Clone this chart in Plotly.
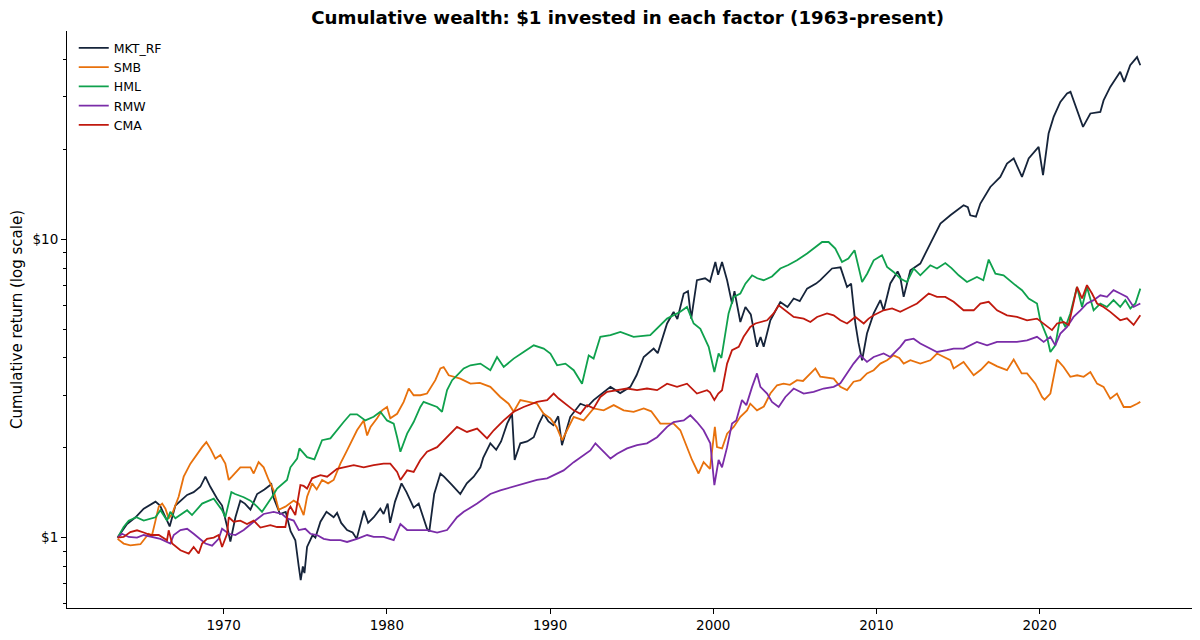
import pandas as pd
import plotly.graph_objects as go

# ---- data (decimal years, cumulative wealth of $1) ----
mkt_t = [1963.5,1964.08,1964.6,1965.1,1965.82,1966.1,1966.53,1966.69,1967.04,1967.35,1967.76,1968.16,1968.57,1968.88,1969.18,1969.6,1969.9,1970.21,1970.41,1970.72,1971.02,1971.3,1971.64,1972.05,1972.5,1972.92,1973.06,1973.45,1973.8,1974.1,1974.39,1974.6,1974.72,1974.85,1974.95,1975.11,1975.45,1975.62,1975.93,1976.3,1976.74,1976.95,1977.2,1977.56,1977.9,1978.15,1978.6,1978.85,1979.2,1979.6,1979.8,1980.05,1980.2,1980.5,1980.9,1981.2,1981.64,1981.95,1982.46,1982.6,1982.9,1983.28,1983.5,1984.0,1984.5,1984.9,1985.32,1985.73,1985.9,1986.34,1986.7,1987.0,1987.37,1987.67,1987.83,1988.18,1988.6,1989.0,1989.3,1989.61,1989.9,1990.2,1990.5,1990.73,1991.24,1991.86,1992.3,1992.67,1993.2,1993.7,1994.3,1994.92,1995.3,1995.74,1996.35,1996.6,1997.17,1997.57,1997.8,1998.19,1998.45,1998.65,1999.0,1999.5,1999.8,2000.13,2000.3,2000.54,2000.85,2001.15,2001.3,2001.66,2001.97,2002.3,2002.68,2002.9,2003.09,2003.5,2004.11,2004.55,2004.93,2005.3,2005.75,2006.3,2006.56,2007.28,2007.8,2008.2,2008.45,2008.71,2008.9,2009.12,2009.42,2009.83,2010.24,2010.44,2010.85,2011.3,2011.46,2011.67,2012.08,2012.69,2013.3,2013.92,2014.53,2015.34,2015.6,2015.75,2016.1,2016.37,2016.98,2017.59,2018.0,2018.41,2018.92,2019.33,2019.94,2020.21,2020.55,2020.86,2021.27,2021.68,2021.89,2022.3,2022.66,2023.11,2023.72,2023.92,2024.33,2024.94,2025.18,2025.55,2025.97,2026.17]
mkt_v = [1.00,1.11,1.17,1.25,1.32,1.28,1.14,1.09,1.28,1.33,1.39,1.42,1.48,1.60,1.48,1.35,1.28,1.09,0.97,1.17,1.33,1.30,1.24,1.40,1.45,1.51,1.36,1.20,1.22,1.05,0.98,0.80,0.72,0.80,0.76,0.93,1.02,1.00,1.13,1.22,1.17,1.21,1.12,1.06,1.04,0.99,1.23,1.12,1.17,1.25,1.20,1.30,1.12,1.32,1.52,1.42,1.26,1.30,1.07,1.05,1.40,1.64,1.60,1.50,1.40,1.52,1.60,1.72,1.85,2.07,1.97,2.10,2.41,2.60,1.82,2.07,2.10,2.17,2.40,2.60,2.45,2.38,2.55,2.04,2.54,2.81,2.75,2.89,3.05,3.20,3.05,3.20,3.50,4.03,4.30,4.15,5.22,5.71,5.40,6.58,6.70,5.42,7.29,7.40,7.20,8.39,7.60,8.39,7.29,6.09,6.70,5.28,5.93,5.60,4.36,4.70,4.36,5.35,6.16,5.93,6.33,6.20,6.83,7.10,7.29,7.98,8.05,6.92,7.10,5.22,4.50,3.93,4.83,5.64,6.25,5.77,7.11,7.80,7.47,6.41,7.87,8.29,9.67,11.29,12.03,13.0,12.8,12.03,11.9,13.17,14.97,16.18,17.94,18.65,16.18,18.65,20.39,16.39,22.61,25.7,28.86,30.8,31.2,27.07,23.8,26.4,26.7,29.2,32.4,36.4,33.7,38.3,40.8,38.3]

smb_t = [1963.5,1963.87,1964.28,1964.9,1965.4,1965.61,1965.82,1966.02,1966.23,1966.43,1966.63,1966.84,1967.24,1967.55,1967.96,1968.37,1968.68,1968.94,1969.2,1969.49,1969.8,1970.1,1970.31,1970.5,1970.82,1971.02,1971.64,1971.84,1972.14,1972.45,1972.76,1973.06,1973.37,1973.78,1974.29,1974.6,1974.9,1975.11,1975.42,1975.7,1976.03,1976.4,1976.74,1977.15,1977.56,1977.87,1978.17,1978.58,1978.79,1979.0,1979.4,1979.71,1980.01,1980.21,1980.63,1981.03,1981.34,1981.64,1982.05,1982.46,1982.97,1983.28,1983.48,1983.79,1984.5,1985.12,1985.7,1986.34,1986.95,1987.46,1987.77,1988.18,1988.6,1989.2,1989.61,1990.02,1990.4,1990.74,1991.04,1991.45,1992.06,1992.67,1993.28,1993.9,1994.51,1995.12,1995.74,1996.2,1996.76,1997.57,1997.98,1998.39,1998.7,1999.1,1999.41,1999.8,2000.1,2000.23,2000.54,2000.85,2001.25,2001.66,2002.07,2002.27,2002.68,2003.1,2003.5,2003.91,2004.31,2004.7,2005.13,2005.5,2005.95,2006.26,2006.56,2007.38,2007.79,2008.2,2008.6,2009.01,2009.42,2009.83,2010.24,2010.65,2011.05,2011.4,2011.67,2012.08,2012.69,2013.3,2013.71,2014.12,2014.53,2014.73,2015.34,2015.96,2016.4,2016.87,2017.4,2018.0,2018.41,2018.9,2019.23,2019.74,2020.15,2020.3,2020.66,2021.07,2021.47,2021.88,2022.3,2022.7,2023.11,2023.52,2023.92,2024.33,2024.74,2025.15,2025.56,2025.97,2026.17]
smb_v = [0.99,0.955,0.942,0.95,1.03,1.02,1.14,1.27,1.30,1.25,1.16,1.20,1.37,1.60,1.77,1.91,2.01,2.09,1.98,1.84,1.89,1.77,1.56,1.60,1.68,1.72,1.72,1.64,1.79,1.72,1.56,1.44,1.24,1.27,1.33,1.30,1.19,1.37,1.52,1.45,1.56,1.52,1.56,1.77,1.96,2.12,2.29,2.47,2.20,2.35,2.51,2.67,2.74,2.51,2.60,2.85,3.16,3.00,3.00,3.04,3.37,3.69,3.73,3.50,3.41,3.28,3.30,3.20,2.96,2.81,2.64,2.89,2.85,2.81,2.60,2.51,2.35,2.12,2.29,2.54,2.47,2.71,2.67,2.78,2.67,2.64,2.71,2.65,2.41,2.41,2.29,2.01,1.82,1.64,1.79,1.70,2.35,2.01,1.99,2.23,2.35,2.54,2.67,2.81,2.67,2.75,3.04,3.24,3.28,3.25,3.37,3.35,3.55,3.69,3.46,3.41,3.20,3.12,3.33,3.37,3.55,3.64,3.83,3.93,4.08,4.00,3.83,3.93,3.83,3.93,4.14,4.03,3.93,3.69,3.88,3.50,3.65,3.88,3.75,3.64,3.95,3.55,3.55,3.28,2.96,2.90,3.04,3.95,3.73,3.46,3.50,3.46,3.59,3.28,3.20,2.92,3.04,2.74,2.74,2.81,2.85]

hml_t = [1963.5,1963.87,1964.18,1964.65,1965.1,1965.82,1966.12,1966.53,1966.73,1967.04,1967.76,1968.06,1968.68,1969.39,1969.9,1970.1,1970.47,1970.7,1971.23,1971.64,1972.05,1972.35,1972.97,1973.27,1973.88,1974.09,1974.5,1974.64,1975.11,1975.56,1976.03,1976.54,1977.35,1977.76,1978.17,1978.68,1979.19,1979.6,1980.01,1980.42,1980.63,1980.83,1981.24,1981.64,1982.05,1982.25,1983.08,1983.38,1983.69,1984.0,1984.3,1984.71,1985.12,1985.73,1986.34,1986.75,1987.16,1987.77,1988.38,1989.0,1989.61,1990.02,1990.43,1990.94,1991.45,1991.96,1992.37,1992.67,1993.08,1993.7,1994.31,1995.12,1996.14,1996.56,1997.17,1997.98,1998.39,1998.8,1999.21,1999.72,2000.07,2000.33,2000.5,2000.74,2000.94,2001.25,2001.66,2001.97,2002.38,2002.7,2003.09,2003.6,2004.11,2004.6,2005.13,2005.75,2006.26,2006.67,2007.07,2007.48,2007.89,2008.28,2008.66,2009.12,2009.44,2009.83,2010.34,2010.65,2011.05,2011.46,2011.87,2012.28,2012.69,2013.3,2013.71,2014.22,2014.6,2015.04,2015.55,2016.16,2016.55,2016.88,2017.29,2017.79,2018.51,2018.92,2019.33,2019.84,2020.04,2020.45,2020.66,2020.96,2021.27,2021.58,2021.88,2022.08,2022.29,2022.6,2022.9,2023.31,2023.72,2024.13,2024.53,2024.94,2025.25,2025.56,2025.87,2026.17]
hml_v = [1.00,1.085,1.14,1.17,1.14,1.17,1.235,1.14,1.22,1.16,1.235,1.19,1.30,1.35,1.235,1.17,1.42,1.40,1.365,1.33,1.27,1.22,1.37,1.46,1.56,1.72,1.84,1.99,1.86,1.83,2.12,2.15,2.44,2.59,2.59,2.47,2.54,2.64,2.47,2.41,2.17,1.94,2.23,2.44,2.74,2.85,2.74,2.64,3.12,3.37,3.50,3.69,3.78,3.83,3.64,4.03,3.73,3.98,4.19,4.41,4.30,4.14,3.78,3.83,3.64,3.28,4.08,3.98,4.71,4.77,4.89,4.71,4.77,5.02,5.42,5.71,5.93,5.22,5.01,4.36,3.59,4.14,4.00,4.83,5.64,6.41,6.58,7.10,7.57,7.40,7.29,7.50,7.98,8.20,8.50,8.96,9.42,9.79,9.79,9.31,8.39,8.62,9.19,7.19,7.68,8.50,8.84,8.08,7.77,7.38,7.19,7.98,7.57,8.18,7.98,8.32,8.00,7.57,7.19,7.47,7.29,8.55,7.67,7.57,7.02,6.75,6.33,6.09,5.35,4.71,4.19,4.41,5.49,5.08,5.64,6.25,6.92,5.93,6.92,5.78,6.09,5.93,6.25,5.93,6.25,5.86,6.09,6.83]

rmw_t = [1963.5,1963.77,1964.18,1964.69,1965.1,1965.71,1966.12,1966.73,1966.94,1967.35,1967.76,1968.16,1968.57,1968.88,1969.29,1969.69,1969.9,1970.31,1970.72,1971.23,1971.84,1972.45,1973.06,1973.58,1973.88,1974.29,1974.6,1975.0,1975.31,1975.72,1976.13,1976.54,1977.15,1977.56,1978.17,1978.79,1979.19,1979.8,1980.42,1980.83,1981.24,1981.85,1982.46,1983.08,1983.69,1984.3,1984.71,1985.53,1986.34,1986.95,1987.77,1988.59,1989.2,1989.82,1990.83,1991.45,1991.86,1992.47,1992.78,1993.19,1993.7,1994.11,1994.72,1995.33,1995.94,1996.56,1997.17,1997.57,1998.19,1998.6,1999.0,1999.41,1999.82,2000.07,2000.33,2000.54,2000.85,2001.15,2001.41,2001.76,2002.03,2002.38,2002.68,2002.89,2003.3,2003.6,2004.01,2004.42,2004.93,2005.54,2006.15,2006.76,2007.38,2007.79,2008.2,2008.6,2009.01,2009.42,2009.83,2010.44,2010.85,2011.46,2011.77,2012.28,2012.69,2013.3,2013.71,2014.32,2014.73,2015.34,2016.16,2016.78,2017.39,2018.0,2018.61,2019.23,2019.84,2020.25,2020.66,2020.96,2021.27,2021.68,2022.08,2022.5,2022.9,2023.31,2023.72,2024.13,2024.53,2024.94,2025.35,2025.76,2026.17]
rmw_v = [1.00,1.03,1.005,1.00,1.02,1.005,0.99,0.955,1.02,1.06,1.07,1.03,0.99,0.955,0.94,0.99,1.07,1.03,1.02,1.06,1.13,1.20,1.22,1.20,1.16,1.14,1.06,1.07,1.03,1.02,0.99,0.98,0.98,0.967,0.99,1.02,1.005,1.005,0.98,1.11,1.06,1.06,1.06,1.04,1.06,1.17,1.22,1.30,1.40,1.44,1.48,1.52,1.56,1.58,1.68,1.79,1.86,1.96,2.07,1.96,1.84,1.91,1.99,2.04,2.07,2.17,2.35,2.44,2.47,2.57,2.44,2.29,2.07,1.50,1.82,1.72,2.01,2.41,2.47,2.89,2.78,3.20,3.55,3.20,3.04,2.85,2.74,2.96,3.16,3.04,3.08,3.16,3.20,3.29,3.55,3.83,4.08,3.88,4.03,4.14,4.03,4.36,4.58,4.64,4.47,4.30,4.19,4.25,4.30,4.30,4.53,4.41,4.53,4.53,4.53,4.58,4.71,4.53,4.71,4.41,4.83,5.08,5.49,5.78,6.09,6.25,6.49,6.41,6.75,6.58,6.41,5.93,6.09]

cma_t = [1963.5,1963.87,1964.28,1964.69,1965.1,1965.51,1966.02,1966.53,1966.63,1966.84,1967.35,1967.86,1968.16,1968.47,1968.68,1968.98,1969.39,1969.69,1969.9,1970.21,1970.31,1970.61,1971.02,1971.43,1971.84,1972.25,1972.86,1973.27,1973.78,1973.96,1974.09,1974.39,1974.7,1974.9,1975.11,1975.42,1975.93,1976.34,1976.95,1977.35,1977.97,1978.58,1979.19,1979.8,1980.21,1980.63,1980.83,1981.24,1981.64,1982.05,1982.46,1983.08,1983.69,1984.3,1984.91,1985.53,1986.14,1986.55,1987.16,1987.77,1988.38,1989.2,1989.82,1990.22,1990.51,1991.04,1991.45,1991.86,1992.27,1992.67,1993.08,1993.49,1994.11,1994.72,1995.33,1995.94,1996.56,1997.17,1997.78,1998.39,1999.0,1999.62,1999.8,2000.07,2000.31,2000.54,2000.85,2001.15,2001.56,2001.86,2002.27,2002.58,2003.3,2003.7,2004.01,2004.42,2004.93,2005.54,2005.95,2006.36,2006.97,2007.38,2007.79,2008.2,2008.71,2009.22,2009.52,2009.83,2010.44,2010.96,2011.46,2011.87,2012.49,2013.2,2013.71,2014.22,2014.73,2015.34,2015.96,2016.37,2016.88,2017.39,2018.0,2018.61,2019.23,2019.84,2020.25,2020.76,2021.07,2021.47,2021.78,2022.08,2022.29,2022.6,2022.9,2023.21,2023.52,2023.92,2024.33,2024.94,2025.35,2025.76,2026.17]
cma_v = [1.00,1.005,1.044,1.058,1.04,1.02,1.02,0.98,1.058,0.955,0.907,0.884,0.93,0.884,0.955,0.99,1.00,1.02,0.93,1.03,1.17,1.13,1.14,1.11,1.14,1.08,1.10,1.085,1.085,1.235,1.27,1.19,1.50,1.49,1.46,1.58,1.62,1.60,1.70,1.72,1.75,1.72,1.75,1.77,1.77,1.66,1.56,1.68,1.66,1.82,1.94,2.01,2.17,2.35,2.26,2.32,2.15,2.29,2.47,2.64,2.74,2.85,2.89,3.04,2.93,2.78,2.67,2.60,2.78,2.71,2.96,3.08,3.12,3.16,3.12,3.16,3.12,3.28,3.20,3.28,3.04,3.12,3.07,2.89,3.04,3.12,3.83,4.25,4.36,4.71,5.08,5.22,5.35,5.64,6.01,5.78,5.49,5.42,5.28,5.49,5.64,5.56,5.35,5.22,5.49,5.22,5.42,5.56,5.78,5.86,5.71,5.86,6.09,6.58,6.41,6.41,6.17,5.78,5.78,6.09,6.17,5.78,5.56,5.49,5.35,5.42,5.22,4.96,5.22,5.28,5.16,6.09,6.92,6.33,7.02,6.58,6.09,5.93,5.71,5.35,5.43,5.16,5.56]

series_names = ["MKT_RF", "SMB", "HML", "RMW", "CMA"]
series_colors = ["#16243a", "#e8710c", "#0fa14d", "#7a2ca8", "#c0190e"]
y_tick_vals = [1, 10]
y_tick_text = ["$1", "$10"]
x_tick_years = [1970, 1980, 1990, 2000, 2010, 2020]


def to_dates(ts):
    out = []
    for t in ts:
        y = int(t)
        out.append(pd.Timestamp(year=y, month=1, day=1) + pd.Timedelta(days=(t - y) * 365.25))
    return out


series = [(mkt_t, mkt_v), (smb_t, smb_v), (hml_t, hml_v), (rmw_t, rmw_v), (cma_t, cma_v)]

fig = go.Figure()
for (ts, vs), name, col in zip(series, series_names, series_colors):
    fig.add_trace(go.Scatter(x=to_dates(ts), y=vs, mode="lines", name=name,
                             line=dict(color=col, width=1.8)))

font_family = "DejaVu Sans"
minor_vals = [0.6, 0.7, 0.8, 0.9, 2, 3, 4, 5, 6, 7, 8, 9, 20, 30, 40]

fig.update_layout(
    width=1200, height=640,
    margin=dict(l=67, r=8, t=31, b=32),
    paper_bgcolor="white", plot_bgcolor="white",
    font=dict(family=font_family, size=14, color="black"),
    title=dict(text="<b>Cumulative wealth: $1 invested in each factor (1963-present)</b>",
               x=0.523, xanchor="center", y=0.973, yanchor="middle",
               font=dict(family=font_family, size=18.2, color="black")),
    showlegend=True,
    legend=dict(x=0.006, y=0.996, xanchor="left", yanchor="top",
                bgcolor="rgba(255,255,255,0)", borderwidth=0,
                font=dict(family=font_family, size=12.5, color="black"),
                itemwidth=30, tracegroupgap=0),
)

fig.update_xaxes(
    type="date",
    range=["1960-05-26", "2029-05-04"],
    tickmode="array",
    tickvals=[pd.Timestamp(year=y, month=1, day=1) for y in x_tick_years],
    ticktext=[str(y) for y in x_tick_years],
    ticks="outside", ticklen=5, tickwidth=1, tickcolor="black",
    showline=True, linecolor="black", linewidth=1, mirror=False,
    showgrid=False, zeroline=False,
    tickfont=dict(family=font_family, size=13.5, color="black"),
)

fig.update_yaxes(
    type="log",
    range=[-0.236, 1.698],
    tickmode="array", tickvals=y_tick_vals, ticktext=y_tick_text,
    ticks="outside", ticklen=5, tickwidth=1, tickcolor="black",
    minor=dict(tickmode="array", tickvals=minor_vals, ticks="outside",
               ticklen=3, tickwidth=1, tickcolor="black", showgrid=False),
    showline=True, linecolor="black", linewidth=1, mirror=False,
    showgrid=False, zeroline=False,
    tickfont=dict(family=font_family, size=13.5, color="black"),
    title=dict(text="Cumulative return (log scale)", standoff=6,
               font=dict(family=font_family, size=15, color="black")),
)

fig.write_html("out.html")
